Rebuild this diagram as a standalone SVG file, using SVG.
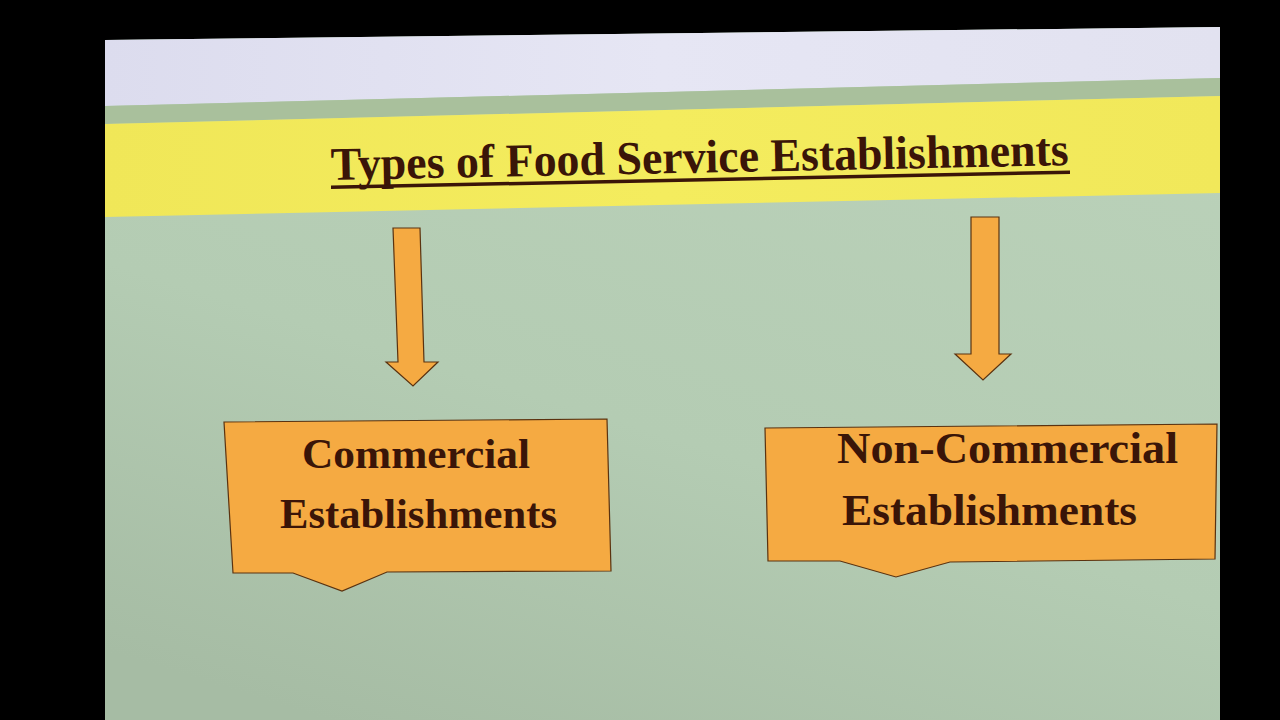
<svg xmlns="http://www.w3.org/2000/svg" width="1280" height="720" viewBox="0 0 1280 720">
  <defs>
    <linearGradient id="bg" x1="0.7" y1="0" x2="0.2" y2="1">
      <stop offset="0" stop-color="#bad1b9"/>
      <stop offset="0.55" stop-color="#b4ccb3"/>
      <stop offset="1" stop-color="#a6bca4"/>
    </linearGradient>
    <linearGradient id="top" x1="0" y1="0" x2="1" y2="0">
      <stop offset="0" stop-color="#dcdcee"/>
      <stop offset="0.5" stop-color="#e6e6f4"/>
      <stop offset="1" stop-color="#e2e2f0"/>
    </linearGradient>
    <linearGradient id="yel" x1="0" y1="0" x2="1" y2="0">
      <stop offset="0" stop-color="#f0e758"/>
      <stop offset="0.5" stop-color="#f4ec5e"/>
      <stop offset="1" stop-color="#f1e85a"/>
    </linearGradient>
    <style>
      .shape { fill: #f5aa42; stroke: #5a3210; stroke-width: 1.2; stroke-linejoin: miter; }
      .lbl { font-family: "Liberation Serif", "Times New Roman", serif; font-weight: bold; fill: #3a1508; }
    </style>
  </defs>

  <rect x="0" y="0" width="1280" height="720" fill="#000"/>

  <!-- screen -->
  <g id="screen">
    <polygon points="105,40 1220,27 1220,720 105,720" fill="url(#bg)"/>
    <polygon points="105,40 1220,27 1220,78 105,106" fill="url(#top)"/>
    <polygon points="105,106 1220,78 1220,96 105,124" fill="#a9c09c"/>
    <polygon points="105,124 1220,96 1220,193 105,217" fill="url(#yel)"/>
  </g>

  <g id="title">
    <text class="lbl" x="331" y="180" font-size="47" textLength="738" lengthAdjust="spacingAndGlyphs" transform="rotate(-1.15 331 180)">Types of Food Service Establishments</text>
    <polygon points="331,185.5 1070,170.5 1070,174 331,189" fill="#3a1508"/>
  </g>

  <g id="connectors">
    <polygon class="shape" points="393,228 420,228 424,362 438,362 413,386 386,362 398,362"/>
    <polygon class="shape" points="971,217 999,217 999,354 1011,354 983,380 955,354 971,354"/>
  </g>

  <g id="node-commercial">
    <polygon class="shape" points="224,422 607,419 611,571 387,572 342,591 293,573 233,573"/>
    <text class="lbl" x="302" y="468" font-size="42" textLength="228" lengthAdjust="spacingAndGlyphs">Commercial</text>
    <text class="lbl" x="280" y="528" font-size="42" textLength="277" lengthAdjust="spacingAndGlyphs">Establishments</text>
  </g>

  <g id="node-noncommercial">
    <polygon class="shape" points="765,428 1217,424 1215,559 950,562 896,577 840,561 768,561"/>
    <text class="lbl" x="837" y="463" font-size="44" textLength="341" lengthAdjust="spacingAndGlyphs">Non-Commercial</text>
    <text class="lbl" x="842" y="525" font-size="44" textLength="295" lengthAdjust="spacingAndGlyphs">Establishments</text>
  </g>
</svg>
